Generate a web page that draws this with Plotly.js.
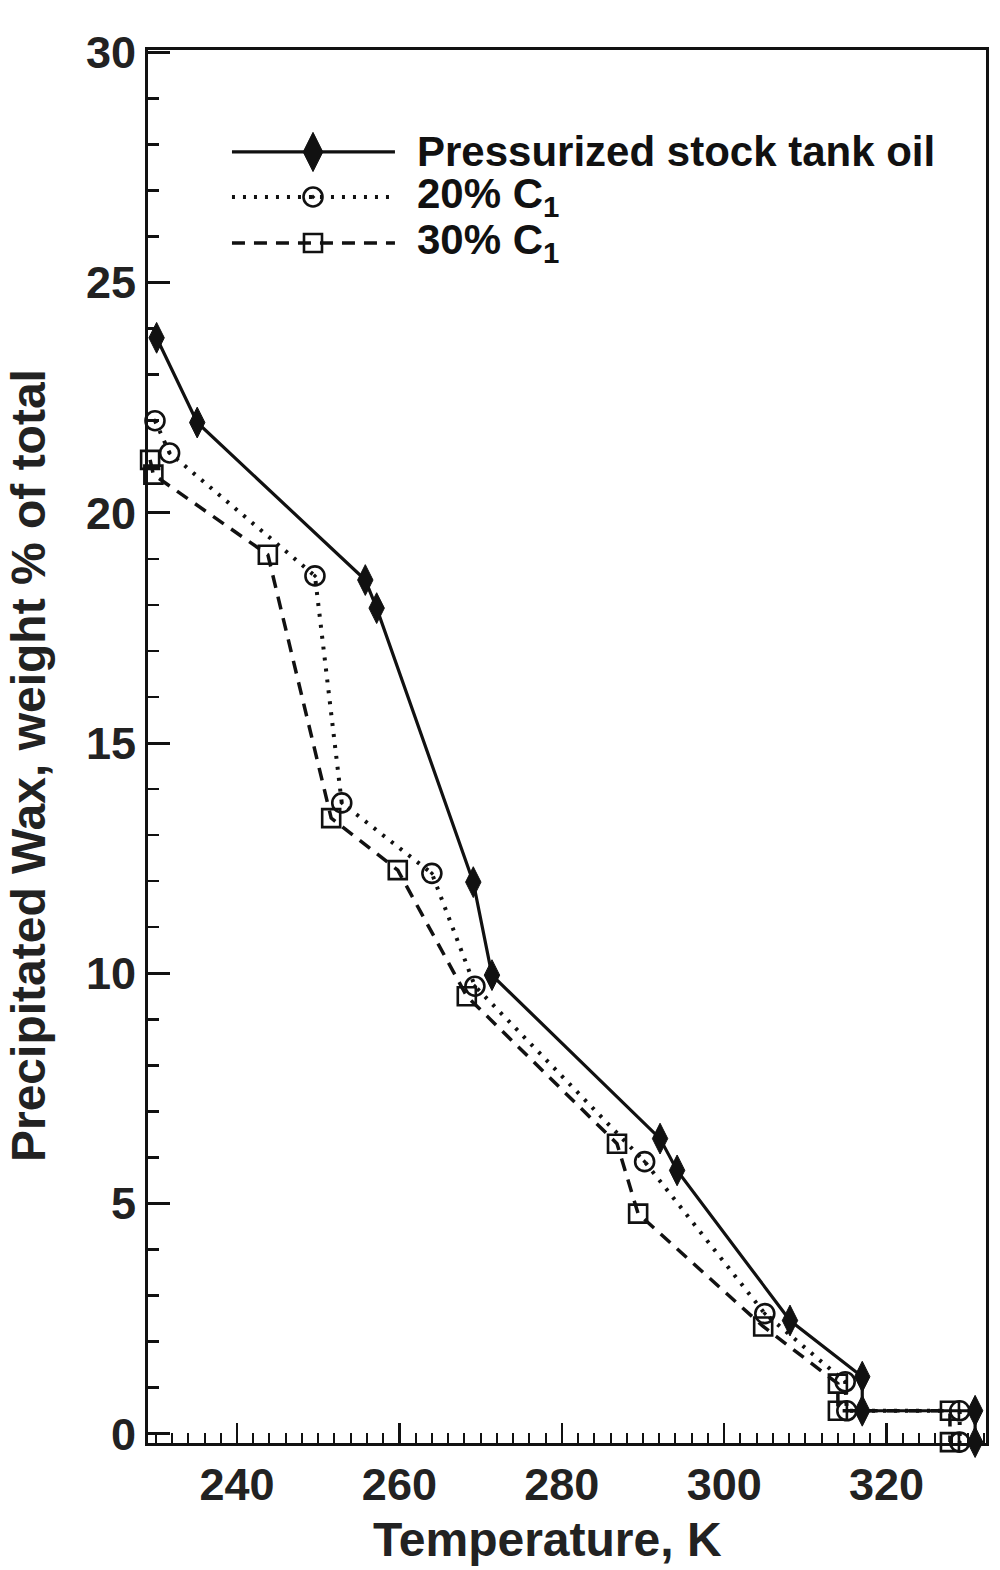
<!DOCTYPE html>
<html>
<head>
<meta charset="utf-8">
<script src="https://cdn.plot.ly/plotly-3.0.1.min.js"></script>
<style>html,body{margin:0;padding:0;background:#fff;}#chart{width:1000px;height:1570px;}</style>
</head>
<body>
<div id="chart"></div>
<script>
// ---- Data ----
const oilTemp = [230.1, 235.1, 255.8, 257.2, 269.1, 271.4, 292.1, 294.2, 308.1, 317.0, 317.0, 330.9, 330.9];
const oilWax  = [23.80, 21.96, 18.54, 17.93, 11.98, 9.96, 6.41, 5.72, 2.46, 1.24, 0.50, 0.50, -0.18];

const c20Temp = [229.9, 231.7, 249.6, 252.9, 264.0, 269.3, 290.2, 305.0, 314.9, 315.1, 329.0, 329.0];
const c20Wax  = [22.00, 21.30, 18.63, 13.70, 12.17, 9.72, 5.91, 2.61, 1.13, 0.50, 0.50, -0.18];

const c30Temp = [229.3, 229.7, 243.8, 251.6, 259.8, 268.3, 286.8, 289.4, 304.8, 314.0, 314.0, 327.8, 327.8];
const c30Wax  = [21.15, 20.83, 19.09, 13.37, 12.24, 9.50, 6.30, 4.78, 2.33, 1.09, 0.50, 0.50, -0.18];

const seriesNames = ['Pressurized stock tank oil', '20% C<sub>1</sub>', '30% C<sub>1</sub>'];
const xTickVals = [240, 260, 280, 300, 320];
const yTickVals = [0, 5, 10, 15, 20, 25, 30];
const xTitle = 'Temperature, K';
const yTitle = 'Precipitated Wax, weight % of total';

// ---- Styles ----
const FONT = 'Liberation Sans, Arial, Helvetica, sans-serif';
const INK = '#111';
const styles = [
  {line: {color: INK, width: 3.2, dash: 'solid'}, marker: {symbol: 'diamond-tall', size: 22, color: INK, line: {color: INK, width: 1}}},
  {line: {color: INK, width: 4, dash: '3px,8px'}, marker: {symbol: 'circle-open-dot', size: 19, color: INK, line: {color: INK, width: 2.6}}},
  {line: {color: INK, width: 3.5, dash: '13px,9px'}, marker: {symbol: 'square-open', size: 18, color: INK, line: {color: INK, width: 2.6}}}
];

const seriesX = [oilTemp, c20Temp, c30Temp];
const seriesY = [oilWax, c20Wax, c30Wax];

const traces = [];
// draw the C1 series first, oil on top
[2, 1, 0].forEach(i => {
  traces.push({
    x: seriesX[i], y: seriesY[i], type: 'scatter', mode: 'lines+markers',
    name: seriesNames[i], line: styles[i].line, marker: styles[i].marker,
    cliponaxis: false, showlegend: false, hoverinfo: 'skip'
  });
});

// ---- Custom legend (long line samples like the original) ----
const legRows = [0.9268, 0.8945, 0.8615];
const legX0 = 0.1002, legX1 = 0.2947, legXm = 0.1969, legText = 0.319;
const annotations = [];
[0, 1, 2].forEach(i => {
  traces.push({
    x: [legX0, legXm, legX1], y: [legRows[i], legRows[i], legRows[i]],
    xaxis: 'x2', yaxis: 'y2', type: 'scatter', mode: 'lines',
    line: styles[i].line, showlegend: false, hoverinfo: 'skip'
  });
  const mk = Object.assign({}, styles[i].marker);
  if (i === 0) mk.size = 28;
  traces.push({
    x: [legXm], y: [legRows[i]], xaxis: 'x2', yaxis: 'y2', type: 'scatter', mode: 'markers',
    marker: mk, showlegend: false, hoverinfo: 'skip', cliponaxis: false
  });
  annotations.push({
    xref: 'paper', yref: 'paper', x: legText, y: legRows[i], xanchor: 'left', yanchor: 'middle',
    text: seriesNames[i], showarrow: false,
    font: {family: FONT, size: 42, color: INK, weight: 'bold'}
  });
});

// axis titles as annotations (positioned like the original, slightly off-centre)
annotations.push({
  xref: 'paper', yref: 'paper', x: 0.4773, y: -0.0696, xanchor: 'center', yanchor: 'middle',
  text: xTitle, showarrow: false, font: {family: FONT, size: 48, color: '#222', weight: 'bold'}
});
annotations.push({
  xref: 'paper', yref: 'paper', x: -0.1432, y: 0.4867, xanchor: 'center', yanchor: 'middle',
  textangle: -90, text: yTitle, showarrow: false, font: {family: FONT, size: 48, color: '#222', weight: 'bold'}
});

const axisCommon = {
  showline: true, linewidth: 3, linecolor: INK, mirror: true,
  showgrid: false, zeroline: false, ticks: 'inside', tickcolor: INK,
  tickfont: {family: FONT, size: 45, color: '#222', weight: 'bold'}
};

const layout = {
  width: 1000, height: 1570,
  margin: {l: 148, r: 14, t: 50, b: 127},
  paper_bgcolor: '#fff', plot_bgcolor: '#fff',
  showlegend: false,
  xaxis: Object.assign({}, axisCommon, {
    range: [229.04, 332.24], tickmode: 'array', tickvals: xTickVals,
    ticklen: 20, tickwidth: 2.5,
    minor: {dtick: 2, tick0: 0, ticks: 'inside', ticklen: 10, tickwidth: 2, tickcolor: INK, showgrid: false}
  }),
  yaxis: Object.assign({}, axisCommon, {
    range: [-0.2, 30.05], tickmode: 'array', tickvals: yTickVals,
    ticklen: 22, tickwidth: 3,
    minor: {dtick: 1, tick0: 0, ticks: 'inside', ticklen: 11, tickwidth: 2.5, tickcolor: INK, showgrid: false}
  }),
  xaxis2: {overlaying: 'x', range: [0, 1], visible: false, fixedrange: true},
  yaxis2: {overlaying: 'y', range: [0, 1], visible: false, fixedrange: true},
  annotations: annotations
};

Plotly.newPlot('chart', traces, layout, {staticPlot: true, displayModeBar: false});
</script>
</body>
</html>
